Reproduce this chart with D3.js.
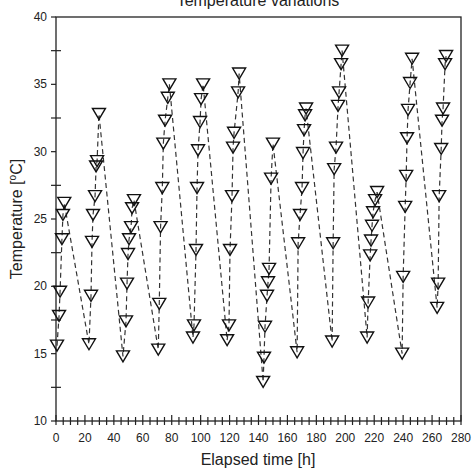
<!DOCTYPE html>
<html>
  <head>
    <style>
      body { margin: 0; background: #fff; }
      text { font-family: "Liberation Sans", Arial, sans-serif; fill: #222; }
    </style>
  </head>
  <body>
    <script src="https://d3js.org/d3.v7.min.js"></script>
    <script>
      // elapsed time [h] and temperature [oC]
      var timeH = [
        0.7, 2.1, 2.8, 4.1, 4.8, 5.7,
        22.8, 24.2, 24.9, 25.6, 27.0, 27.7, 28.4, 29.7,
        46.3, 48.4, 49.1, 49.8, 50.5, 51.9, 52.6, 53.9,
        70.7, 71.4, 72.3, 73.5, 74.2, 75.4, 77.3, 78.4,
        94.7, 95.4, 96.8, 97.5, 98.2, 99.6, 100.3, 101.7,
        118.3, 119.6, 120.3, 121.7, 122.4, 123.1, 125.9, 126.6,
        143.2, 143.8, 144.5, 145.9, 146.6, 147.3, 148.7, 150.0,
        166.7, 167.4, 168.7, 170.1, 170.8, 171.5, 172.2, 172.9,
        190.9, 191.6, 192.3, 193.6, 195.0, 195.7, 197.1, 197.8,
        215.1, 215.8, 217.2, 217.8, 218.5, 219.2, 220.6, 222.0,
        239.3, 240.0, 241.4, 242.1, 242.7, 243.4, 244.8, 246.2,
        263.5, 264.2, 264.9, 266.3, 266.9, 267.6, 269.0, 269.7
      ];
      var tempC = [
        15.6, 17.8, 19.6, 23.5, 25.3, 26.2,
        15.7, 19.3, 23.3, 25.3, 26.7, 28.9, 29.3, 32.8,
        14.8, 17.4, 20.2, 22.4, 23.5, 24.4, 25.8, 26.4,
        15.3, 18.7, 24.4, 27.3, 30.6, 32.3, 34.0, 35.0,
        16.2, 17.1, 22.7, 27.3, 30.1, 32.2, 33.9, 35.0,
        16.0, 17.1, 22.7, 26.7, 30.3, 31.4, 34.4, 35.8,
        12.9, 14.7, 17.0, 19.3, 20.3, 21.3, 28.0, 30.6,
        15.1, 23.2, 25.3, 27.3, 29.9, 31.6, 32.7, 33.2,
        15.9, 23.2, 28.7, 30.3, 33.4, 34.4, 36.5, 37.5,
        16.2, 18.8, 22.3, 23.4, 24.5, 25.5, 26.4, 27.0,
        15.0, 20.7, 25.9, 28.2, 31.0, 33.1, 35.1, 36.9,
        18.4, 20.2, 26.7, 30.2, 32.3, 33.2, 36.5, 37.1
      ];
      var xTicks = [0, 20, 40, 60, 80, 100, 120, 140, 160, 180, 200, 220, 240, 260, 280];
      var yTicks = [10, 15, 20, 25, 30, 35, 40];

      var W = 474, H = 474;
      var mLeft = 56, mRight = 461, mTop = 17, mBottom = 421;

      var svg = d3.select("body").append("svg")
        .attr("width", W).attr("height", H);

      var x = d3.scaleLinear().domain([0, 280]).range([mLeft, mRight]);
      var y = d3.scaleLinear().domain([10, 40]).range([mBottom, mTop]);

      var points = timeH.map(function(t, i){ return [t, tempC[i]]; });

      // frame
      svg.append("rect")
        .attr("x", mLeft).attr("y", mTop)
        .attr("width", mRight - mLeft).attr("height", mBottom - mTop)
        .attr("fill", "none").attr("stroke", "#222").attr("stroke-width", 1.3);

      // x ticks: minor every 5 h, major every 20 h
      var ax = svg.append("g").attr("stroke", "#222").attr("stroke-width", 1.2);
      d3.range(0, 281, 5).forEach(function(v){
        var major = v % 20 == 0;
        ax.append("line")
          .attr("x1", x(v)).attr("x2", x(v))
          .attr("y1", mBottom - (major ? 6 : 4)).attr("y2", mBottom + 4);
      });
      // y ticks: major every 5, minor at the halves
      d3.range(10, 40.1, 2.5).forEach(function(v){
        var major = v % 5 == 0;
        ax.append("line")
          .attr("y1", y(v)).attr("y2", y(v))
          .attr("x1", mLeft - 5).attr("x2", mLeft + (major ? 0 : 5));
      });

      svg.selectAll(".xl").data(xTicks).enter().append("text")
        .attr("x", function(d){ return x(d); })
        .attr("y", 442)
        .attr("text-anchor", "middle")
        .style("font-size", "12px")
        .text(function(d){ return d; });

      svg.selectAll(".yl").data(yTicks).enter().append("text")
        .attr("x", 47)
        .attr("y", function(d){ return y(d) + 4; })
        .attr("text-anchor", "end")
        .style("font-size", "12px")
        .text(function(d){ return d; });

      // titles
      svg.append("text")
        .attr("x", 258).attr("y", 6)
        .attr("text-anchor", "middle")
        .style("font-size", "16px")
        .text("Temperature variations");

      svg.append("text")
        .attr("x", 258).attr("y", 465)
        .attr("text-anchor", "middle")
        .style("font-size", "16px")
        .text("Elapsed time [h]");

      var yl = svg.append("text")
        .attr("transform", "translate(22,219) rotate(-90)")
        .attr("text-anchor", "middle")
        .style("font-size", "16px");
      yl.append("tspan").text("Temperature [");
      yl.append("tspan").attr("dy", -6).style("font-size", "10px").text("o");
      yl.append("tspan").attr("dy", 6).text("C]");

      // dashed connecting line
      var line = d3.line()
        .x(function(d){ return x(d[0]); })
        .y(function(d){ return y(d[1]); });

      svg.append("path")
        .datum(points)
        .attr("d", line)
        .attr("fill", "none")
        .attr("stroke", "#333")
        .attr("stroke-width", 1.2)
        .attr("stroke-dasharray", "5,3.5");

      // open down-triangles
      svg.selectAll(".m").data(points).enter().append("path")
        .attr("d", "M-6.5,-5.5L6.5,-5.5L0,5.5Z")
        .attr("transform", function(d){ return "translate(" + x(d[0]) + "," + y(d[1]) + ")"; })
        .attr("fill", "none")
        .attr("stroke", "#111")
        .attr("stroke-width", 1.4);
    </script>
  </body>
</html>
